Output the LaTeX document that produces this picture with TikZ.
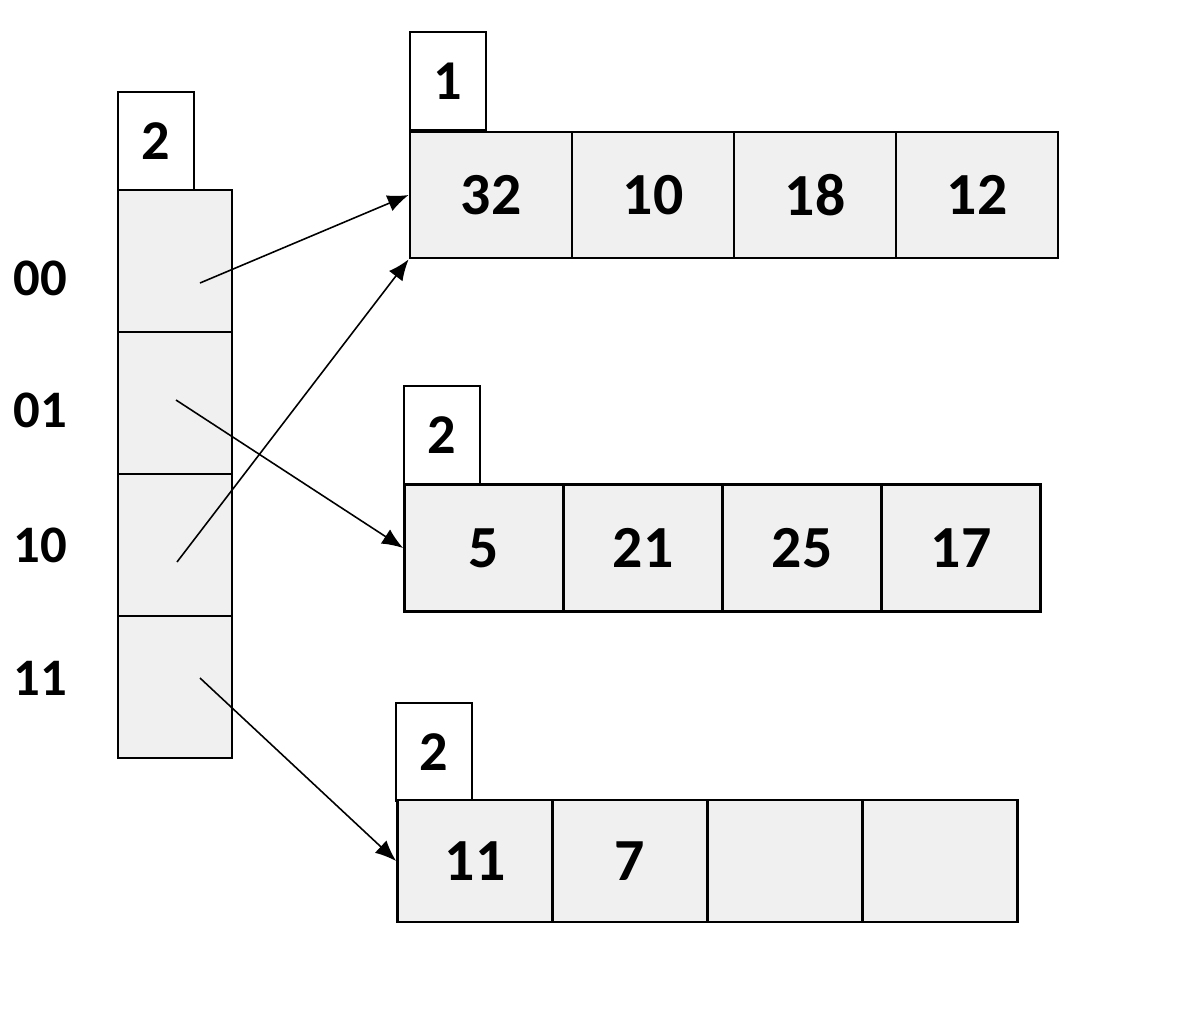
\documentclass[tikz,border=0pt]{standalone}
\usepackage{fontspec}
\setmainfont{Carlito}
\usepackage{tikz}
\usetikzlibrary{positioning, arrows.meta}
\tikzstyle{slot}=[rectangle, draw=black, line width=1.6pt, fill=gray!12, inner sep=0pt, font=\fontsize{34}{40}\selectfont\bfseries]
\tikzstyle{depth}=[rectangle, draw=black, line width=1.6pt, fill=white, inner sep=0pt, minimum width=1.52cm, minimum height=1.96cm, font=\fontsize{32}{38}\selectfont\bfseries]
\tikzstyle{bits}=[font=\fontsize{30}{36}\selectfont\bfseries]
\tikzstyle{ptr}=[line width=0.9pt, -{Latex[length=0.42cm, width=0.34cm]}]

\begin{document}
\begin{tikzpicture}[x=0.02cm, y=-0.02cm]
        \useasboundingbox (0,0) rectangle (1181,1011);

        % Le répertoire
        \node[depth] (dd) at (156,141) {2};
        \node[slot, minimum width=2.28cm, minimum height=2.84cm] (d0) at (175,261) {};
        \node[slot, minimum width=2.28cm, minimum height=2.84cm] (d1) at (175,403) {};
        \node[slot, minimum width=2.28cm, minimum height=2.84cm] (d2) at (175,545) {};
        \node[slot, minimum width=2.28cm, minimum height=2.84cm] (d3) at (175,687) {};
        \node[bits] (l0) at (40,278) {00};
        \node[bits] (l1) at (40,410) {01};
        \node[bits] (l2) at (40,545) {10};
        \node[bits] (l3) at (40,678) {11};

        % Premier seau
        \node[depth] (p1) at (448,81) {1};
        \node[slot, minimum width=3.24cm, minimum height=2.52cm] (a1) at (491,195) {32};
        \node[slot, minimum width=3.24cm, minimum height=2.52cm] (a2) at (653,195) {10};
        \node[slot, minimum width=3.24cm, minimum height=2.52cm] (a3) at (815,195) {18};
        \node[slot, minimum width=3.24cm, minimum height=2.52cm] (a4) at (977,195) {12};

        % Deuxième seau
        \node[depth] (p2) at (442,435) {2};
        \node[slot, minimum width=3.18cm, minimum height=2.54cm] (b1) at (484,548) {5};
        \node[slot, minimum width=3.18cm, minimum height=2.54cm] (b2) at (643,548) {21};
        \node[slot, minimum width=3.18cm, minimum height=2.54cm] (b3) at (802,548) {25};
        \node[slot, minimum width=3.18cm, minimum height=2.54cm] (b4) at (961,548) {17};

        % Troisième seau
        \node[depth] (p3) at (434,752) {2};
        \node[slot, minimum width=3.1cm, minimum height=2.44cm] (c1) at (475,861) {11};
        \node[slot, minimum width=3.1cm, minimum height=2.44cm] (c2) at (630,861) {7};
        \node[slot, minimum width=3.1cm, minimum height=2.44cm] (c3) at (785,861) {};
        \node[slot, minimum width=3.1cm, minimum height=2.44cm] (c4) at (940,861) {};

        % Les pointeurs
        \coordinate (s0) at (200,283);
        \coordinate (s1) at (176,400);
        \coordinate (s2) at (177,562);
        \coordinate (s3) at (200,678);
        \draw[ptr] (s0) -- (a1.west);
        \draw[ptr] (s1) -- (b1.west);
        \draw[ptr] (s2) -- (a1.south west);
        \draw[ptr] (s3) -- (c1.west);
    \end{tikzpicture}
\end{document}
